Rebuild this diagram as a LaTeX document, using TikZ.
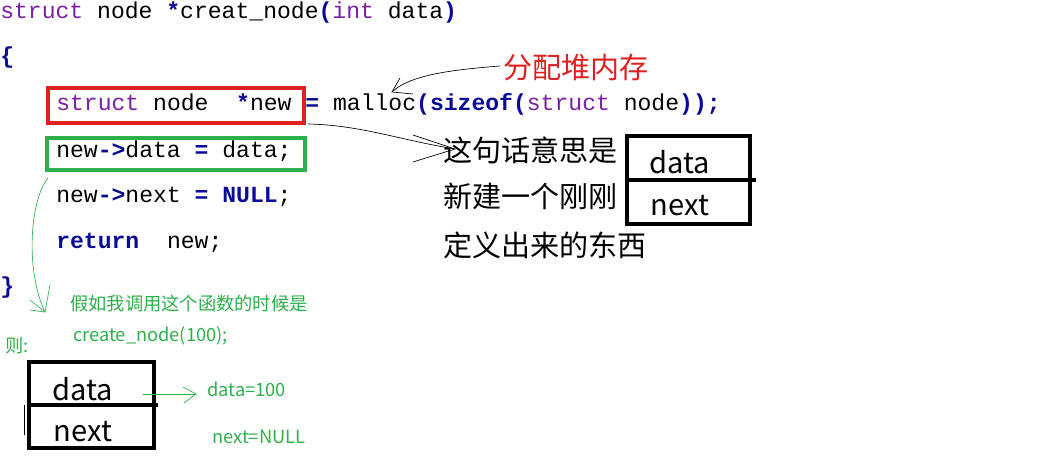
\documentclass[tikz,border=0pt]{standalone}
\usepackage{fontspec}
\setmonofont{Liberation Mono}
\newfontfamily\cjk{Noto Sans CJK SC}
\definecolor{kw}{HTML}{7A1FA2}
\definecolor{op}{HTML}{0A0A96}
\definecolor{gr}{HTML}{2DB04A}
\definecolor{rd}{HTML}{E02020}
\newcommand{\K}[1]{\textcolor{kw}{#1}}
\newcommand{\B}[1]{\textcolor{op}{\bfseries #1}}
\begin{document}
\begin{tikzpicture}[x=0.75pt,y=-0.75pt,
  code/.style={anchor=west,inner sep=0,font=\ttfamily\fontsize{17.3}{17.3}\selectfont},
  cn/.style={anchor=west,inner sep=0,font=\cjk\fontsize{21.8}{21.8}\selectfont},
  gn/.style={anchor=west,inner sep=0,text=gr,font=\cjk\fontsize{13.7}{13.7}\selectfont},
  bx/.style={draw=black,line width=3pt},
  thin/.style={line width=0.5pt}]
\useasboundingbox (0,0) rectangle (1053,473);
\node[code] (l1) at (0,13) {\K{struct} node \B{*}creat\_node\B{(}\K{int} data\B{)}};
\node[code] (l2) at (0,58) {\B{\{}};
\node[code] (l3) at (56,104) {\K{struct} node\ \ \B{*}new \B{=} malloc\B{(sizeof(}\K{struct} node\B{));}};
\node[code] (l4) at (56,151) {new\B{->}data \B{=} data;};
\node[code] (l5) at (56,197) {new\B{->}next \B{=} \B{NULL};};
\node[code] (l6) at (56,243) {\B{return}\ \ new;};
\node[code] (l7) at (0,288) {\B{\}}};
\draw[rd,line width=3pt] (48,88) rectangle (304,123);
\draw[gr,line width=3pt] (47,138) rectangle (305,170);
\node[cn,text=rd] (fp) at (503,68) {分配堆内存};
\coordinate (c1) at (308,124);
\coordinate (c2) at (455,149);
\coordinate (c3) at (500,66);
\coordinate (c4) at (392,92);
\draw[thin] (c1) .. controls (360,125) and (400,140) .. (c2);
\draw[thin] (413,135) -- (c2) -- (413,162);
\draw[thin] (c3) .. controls (450,70) and (410,75) .. (c4);
\draw[thin] (400,78) -- (c4) -- (413,94);
\node[cn] (t1) at (443,150) {这句话意思是};
\node[cn] (t2) at (443,196) {新建一个刚刚};
\node[cn] (t3) at (443,245) {定义出来的东西};
\draw[bx] (627,136) rectangle (750,224);
\draw[bx] (627,180) -- (756,180);
\node[cn,anchor=center] (d1) at (680,162) {data};
\node[cn,anchor=center] (n1) at (680,206) {next};
\coordinate (g1) at (48,178);
\coordinate (g2) at (45,312);
\draw[gr,thin] (g1) .. controls (30,200) and (25,270) .. (g2);
\draw[gr,thin] (50,285) -- (g2) -- (30,300);
\draw[gr,thin] (30,310) -- (g2);
\node[gn] (q1) at (70,304) {假如我调用这个函数的时候是};
\node[gn] (q2) at (73,336) {create\_node(100);};
\node[gn] (q3) at (5,346) {则:};
\draw[bx] (29,362) rectangle (154,448);
\draw[bx] (29,405) -- (158,405);
\node[cn,anchor=center] (d2) at (83,389) {data};
\node[cn,anchor=center] (n2) at (83,432) {next};
\draw[thin] (24,405) -- (24,435);
\coordinate (a1) at (143,394);
\coordinate (a2) at (196,394);
\draw[gr,thin] (a1) -- (a2);
\draw[gr,thin] (183,387) -- (a2) -- (184,403);
\node[gn] (r1) at (207,389) {data=100};
\node[gn] (r2) at (212,437) {next=NULL};
\end{tikzpicture}
\end{document}
